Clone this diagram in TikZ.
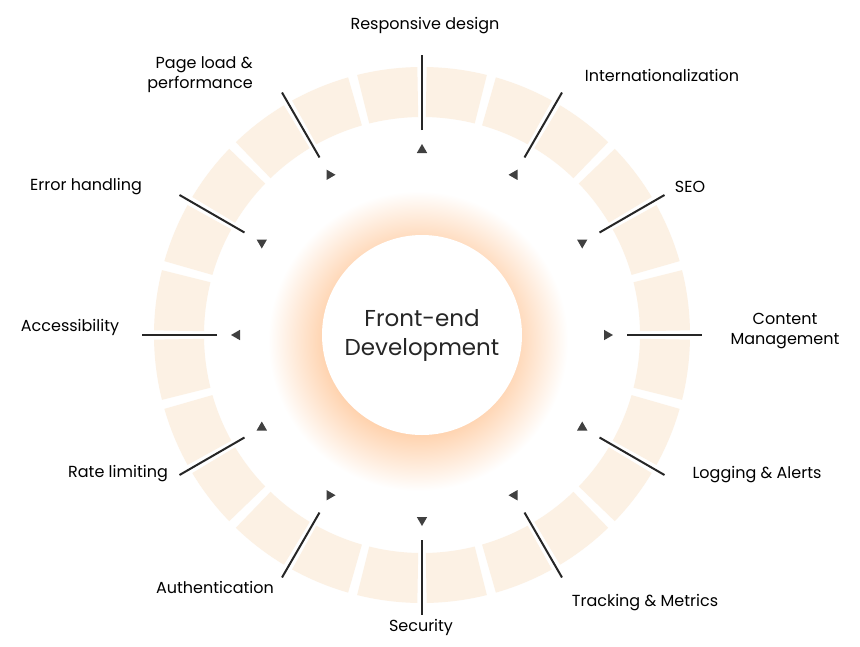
\documentclass[tikz,border=0pt]{standalone}
\usepackage{fontspec}
\setmainfont{Poppins}
\usetikzlibrary{calc}
\definecolor{seg}{HTML}{FCF1E4}
\definecolor{glow}{HTML}{FF8A2A}
\tikzset{
  lbl/.style={font=\fontsize{16}{20}\selectfont, align=center, text=black},
  spoke/.style={line width=2pt, black!85},
  tri/.style={fill=black!75, draw=none},
}
\begin{document}
\begin{tikzpicture}[x=1pt,y=-1pt]
\useasboundingbox (0,0) rectangle (860,646);
\fill[white] (0,0) rectangle (860,646);
\coordinate (C) at (422,335);
% ring segments
\foreach \i in {0,...,23}{
  \pgfmathsetmacro{\a}{\i*15+1}
  \pgfmathsetmacro{\b}{\i*15+14}
  \fill[seg] ($(C)+(\a:218)$) arc[start angle=\a, end angle=\b, radius=218]
     -- ($(C)+(\b:268)$) arc[start angle=\b, end angle=\a, radius=268] -- cycle;
}
\fill[white] (C) circle (205);
% glow
\shade[inner color=glow, outer color=white] ($(C)+(-4,6)$) circle (150);
\node[circle, fill=white, minimum size=200pt, inner sep=0pt, font=\fontsize{23}{29}\selectfont, align=center, text=black!85] (core) at (C) {Front-end\\Development};
% spokes, triangles
\foreach \ang/\dir/\nm in {90/90/a,60/180/b,30/270/c,0/0/d,-30/90/e,-60/180/f,-90/270/g,-120/0/h,-150/90/i,180/180/j,150/270/k,120/0/l}{
  \coordinate (s1\nm) at ($(C)+(-\ang:205)$);
  \coordinate (s2\nm) at ($(C)+(-\ang:280)$);
  \draw[spoke] (s1\nm) -- (s2\nm);
  \coordinate (t\nm) at ($(C)+(-\ang:185)$);
  \fill[tri] ($(t\nm)+(-\dir:6)$) -- ($(t\nm)+(-\dir+120:6)$) -- ($(t\nm)+(-\dir+240:6)$) -- cycle;
}
\node[lbl] (la) at (425,26) {Responsive design};
\node[lbl] (lb) at (662,75) {Internationalization};
\node[lbl] (lc) at (690,187) {SEO};
\node[lbl] (ld) at (785,331) {Content\\Management};
\node[lbl] (le) at (757,475) {Logging \& Alerts};
\node[lbl] (lf) at (645,603) {Tracking \& Metrics};
\node[lbl] (lg) at (421,627) {Security};
\node[lbl] (lh) at (215,587) {Authentication};
\node[lbl] (li) at (118,474) {Rate limiting};
\node[lbl] (lj) at (70,327) {Accessibility};
\node[lbl] (lk) at (86,187) {Error handling};
\node[lbl, align=right] (ll) at (200,75) {Page load \&\\performance};
\end{tikzpicture}
\end{document}
